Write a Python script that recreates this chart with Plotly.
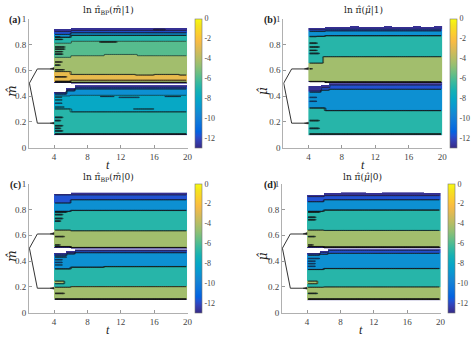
import numpy as np
import plotly.graph_objects as go

# ---------------- data ----------------
T_TICKS = [4, 8, 12, 16, 20]
Y_TICKS = [0, 0.2, 0.4, 0.6, 0.8, 1]
Y_TICK_TEXT = ["0", "0.2", "0.4", "0.6", "0.8", "1"]
CB_TICKS = [0, -2, -4, -6, -8, -10, -12]
CB_TEXT = ["0", "-2", "-4", "-6", "-8", "-10", "-12"]
Z_MIN, Z_MAX = -13, 0

# log-probability level of each coloured band
DK, BL, LB, CY, TL, GR, YG, OR = -12.8, -11.8, -9.2, -8.0, -6.8, -5.85, -4.4, -2.7
FINGER_DROP = -1.6   # thin finger / dash = band level lowered by this amount

# branching tree drawn for t < 4
TREE_T = [1.05, 2.0, 3.5, 4.0]
TREE_UP = [0.50, 0.61, 0.61, 0.613]
TREE_LO = [0.50, 0.19, 0.19, 0.19]
FAN_UP = [0.604, 0.622]
FAN_LO = [0.183, 0.198]

# band boundaries: each boundary = [(t_from, y), ...] (step in t); bands listed bottom->top
# fingers / dashes: (y_centre, t_start, t_end)
A_UP_EDGES = [
    [(4, 0.503), (6, 0.500)],
    [(4, 0.509), (6, 0.506)],
    [(4, 0.516), (6, 0.522)],
    [(4, 0.590), (6, 0.568)],
    [(4, 0.700), (6, 0.712), (10, 0.722), (14, 0.712)],
    [(4, 0.810), (6, 0.826)],
    [(4, 0.855), (6, 0.870)],
    [(4, 0.877), (6, 0.890)],
    [(4, 0.900), (6, 0.907)],
    [(4, 0.917), (6, 0.928)],
]
A_UP_BANDS = [DK, YG, OR, YG, GR, TL, LB, BL, DK]
A_UP_ISL = [
    (0.859, 4, 4.8), (0.839, 4, 5.0), (0.780, 4, 5.2), (0.763, 4, 5.2),
    (0.744, 4, 5.0), (0.725, 4, 5.0), (0.663, 4, 5.0), (0.640, 4, 4.8),
    (0.603, 4, 5.2), (0.548, 4, 5.5),
    (0.818, 9.4, 11.4), (0.565, 13.8, 16.1), (0.565, 18.9, 20), (0.915, 16, 17.3),
]
A_LO_EDGES = [
    [(4, 0.100)],
    [(4, 0.106)],
    [(4, 0.300), (6, 0.278)],
    [(4, 0.400), (6, 0.404)],
    [(4, 0.415), (5.5, 0.440), (6.5, 0.455)],
    [(4, 0.426), (5.5, 0.450), (6.5, 0.468)],
    [(4, 0.434), (5.5, 0.460), (6.5, 0.485)],
]
A_LO_BANDS = [DK, TL, CY, LB, BL, DK]
A_LO_ISL = [
    (0.391, 4, 5), (0.370, 4, 5), (0.345, 4, 5), (0.315, 4, 5.2),
    (0.235, 4, 5), (0.210, 4, 4.8), (0.170, 4, 5), (0.150, 4, 4.8), (0.130, 4, 5),
    (0.397, 9.4, 11.2), (0.390, 11.8, 14.2), (0.396, 17.3, 19.3), (0.300, 13.4, 16.1),
]

B_UP_EDGES = [
    [(4, 0.506), (6, 0.500)],
    [(4, 0.512), (6, 0.507)],
    [(4, 0.655), (5.75, 0.705)],
    [(4, 0.862), (6, 0.868)],
    [(4, 0.900), (6, 0.905)],
    [(4, 0.912), (6, 0.917)],
    [(4, 0.928), (6, 0.937), (9, 0.942), (10, 0.936), (13, 0.942), (14, 0.936),
     (16.5, 0.942), (17.5, 0.936), (19, 0.941)],
]
B_UP_BANDS = [DK, YG, TL, LB, BL, DK]
B_UP_ISL = [(0.862, 4, 5), (0.810, 4, 5), (0.780, 4, 5.2), (0.754, 4, 5), (0.730, 4, 5.2), (0.611, 4, 4.4)]
B_LO_EDGES = [
    [(4, 0.100)],
    [(4, 0.106)],
    [(4, 0.308), (6, 0.288)],
    [(4, 0.430), (5.5, 0.445), (6.5, 0.453)],
    [(4, 0.440), (5.5, 0.465), (6.5, 0.485)],
    [(4, 0.474), (5.5, 0.485), (6.5, 0.499)],
]
B_LO_BANDS = [DK, TL, LB, BL, DK]
B_LO_ISL = [(0.390, 4, 5), (0.360, 4, 5), (0.210, 4, 5.2), (0.150, 4, 5.2)]

C_UP_EDGES = [
    [(4, 0.505), (6, 0.500)],
    [(4, 0.512), (6, 0.506)],
    [(4, 0.640), (6, 0.634)],
    [(4, 0.785), (6, 0.792)],
    [(4, 0.850), (6, 0.875)],
    [(4, 0.912)],
    [(4, 0.922), (6, 0.930)],
]
C_UP_BANDS = [DK, YG, TL, LB, BL, DK]
C_UP_ISL = [(0.780, 4, 5.5), (0.760, 4, 5), (0.730, 4, 5), (0.710, 4, 4.8), (0.590, 4, 5.2), (0.525, 4, 4.8)]
C_LO_EDGES = [
    [(4, 0.100)],
    [(4, 0.106)],
    [(4, 0.198), (6, 0.203)],
    [(4, 0.340), (6, 0.352), (10, 0.358)],
    [(4, 0.440), (5.5, 0.455), (6.5, 0.466)],
    [(4, 0.452), (5.5, 0.466), (6.5, 0.480)],
    [(4, 0.462), (5.5, 0.475), (6.5, 0.489)],
]
C_LO_BANDS = [DK, YG, TL, LB, BL, DK]
C_LO_ISL = [(0.150, 4, 5.3), (0.430, 4, 5.5), (0.410, 4, 5), (0.390, 4, 5), (0.370, 4, 5)]
C_LO_BLOBS = [(0.235, 4, 5.3, YG)]

D_UP_EDGES = [
    [(4, 0.505), (6, 0.500)],
    [(4, 0.512), (6, 0.508)],
    [(4, 0.640), (6, 0.637)],
    [(4, 0.785), (6, 0.795)],
    [(4, 0.860), (6, 0.875)],
    [(4, 0.900), (6, 0.908)],
    [(4, 0.915), (6, 0.928), (8, 0.932), (11, 0.928), (13, 0.932), (18, 0.929)],
]
D_UP_BANDS = [DK, YG, TL, LB, BL, DK]
D_UP_ISL = [(0.780, 4, 5.5), (0.740, 4, 5), (0.720, 4, 5), (0.590, 4, 5), (0.525, 4, 4.8)]
D_LO_EDGES = [
    [(4, 0.100)],
    [(4, 0.106)],
    [(4, 0.198), (6, 0.200)],
    [(4, 0.335), (6, 0.343)],
    [(4, 0.445), (5.5, 0.452), (6.5, 0.460)],
    [(4, 0.455), (5.5, 0.468), (6.5, 0.483)],
    [(4, 0.462), (5.5, 0.476), (6.5, 0.492)],
]
D_LO_BANDS = [DK, YG, TL, LB, BL, DK]
D_LO_ISL = [(0.150, 4, 5.2), (0.420, 4, 5.5), (0.400, 4, 5), (0.380, 4, 5), (0.360, 4, 5)]
D_LO_BLOBS = [(0.235, 4, 5.3, YG)]

TITLES = ["ln π̂<sub>BP</sub>(<i>m̂</i>|1)", "ln π̂(<i>μ̂</i>|1)",
          "ln π̂<sub>BP</sub>(<i>m̂</i>|0)", "ln π̂(<i>μ̂</i>|0)"]
YLABELS = ["<i>m̂</i>", "<i>μ̂</i>", "<i>m̂</i>", "<i>μ̂</i>"]
PANEL_TAGS = ["(a)", "(b)", "(c)", "(d)"]

# ---------------- rendering helpers ----------------
PARULA_RGB = [
    (0, (0.2081, 0.1663, 0.5292)), (2, (0.2123, 0.2138, 0.6270)), (4, (0.1959, 0.2645, 0.7279)),
    (6, (0.1253, 0.3242, 0.8303)), (8, (0.0117, 0.3875, 0.8820)), (12, (0.0498, 0.4586, 0.8641)),
    (16, (0.0793, 0.5200, 0.8312)), (20, (0.0343, 0.5966, 0.8199)), (24, (0.0228, 0.6535, 0.7768)),
    (28, (0.0843, 0.6928, 0.7062)), (32, (0.2178, 0.7250, 0.6193)), (36, (0.3953, 0.7459, 0.5244)),
    (40, (0.5709, 0.7485, 0.4494)), (44, (0.7184, 0.7411, 0.3905)), (48, (0.8507, 0.7299, 0.3360)),
    (52, (0.9739, 0.7314, 0.2666)), (56, (0.9880, 0.8066, 0.1794)), (60, (0.9589, 0.8949, 0.1132)),
    (63, (0.9763, 0.9831, 0.0538)),
]
PARULA = [[i / 63, "rgb(%d,%d,%d)" % tuple(round(255 * c) for c in rgb)] for i, rgb in PARULA_RGB]

T_EDGES = np.arange(4, 20.001, 0.25)
T_CENT = (T_EDGES[:-1] + T_EDGES[1:]) / 2
DY = 0.0025
FINGER_HALF = 0.0016
BLOB_HALF = 0.009


def step_at(boundary, t):
    y = boundary[0][1]
    for ts, ys in boundary:
        if t >= ts:
            y = ys
    return y


def build_block(edges, bands, islands, blobs=()):
    lo = min(p[1] for p in edges[0])
    hi = max(p[1] for p in edges[-1])
    ye = np.arange(lo, hi + DY * 0.99, DY)
    yc = (ye[:-1] + ye[1:]) / 2
    z = np.full((len(yc), len(T_CENT)), np.nan)
    for j, t in enumerate(T_CENT):
        bs = [step_at(e, t) for e in edges]
        for k, v in enumerate(bands):
            z[(yc >= bs[k]) & (yc < bs[k + 1]), j] = v
        base = z[:, j].copy()
        for (y0, t0, t1) in islands:
            if t0 <= t <= t1:
                m = (np.abs(yc - y0) <= FINGER_HALF) & ~np.isnan(base)
                z[m, j] = base[m] + FINGER_DROP
        for (y0, t0, t1, v) in blobs:
            if t0 <= t <= t1:
                m = (np.abs(yc - y0) <= BLOB_HALF) & ~np.isnan(base)
                z[m, j] = v
    zl = z.copy()
    for j in range(zl.shape[1]):
        col = zl[:, j]
        idx = np.where(~np.isnan(col))[0]
        col[:idx[0]] = col[idx[0]]
        col[idx[-1] + 1:] = col[idx[-1]]
    return ye, yc, z, zl


PANELS = [
    ((A_UP_EDGES, A_UP_BANDS, A_UP_ISL, ()), (A_LO_EDGES, A_LO_BANDS, A_LO_ISL, ())),
    ((B_UP_EDGES, B_UP_BANDS, B_UP_ISL, ()), (B_LO_EDGES, B_LO_BANDS, B_LO_ISL, ())),
    ((C_UP_EDGES, C_UP_BANDS, C_UP_ISL, ()), (C_LO_EDGES, C_LO_BANDS, C_LO_ISL, C_LO_BLOBS)),
    ((D_UP_EDGES, D_UP_BANDS, D_UP_ISL, ()), (D_LO_EDGES, D_LO_BANDS, D_LO_ISL, D_LO_BLOBS)),
]

W, H = 474, 343
X_DOM = [[29.3, 189.5], [286.3, 447.0], [29.3, 189.5], [285.0, 445.3]]
Y_DOM = [[14, 147], [14, 147], [184, 317], [184, 317]]
CB_X = [197, 455, 197, 453]
TITLE_X = [109.5, 367.5, 109.5, 366]
TITLE_Y = [6, 6, 177.5, 177.5]
TAG_X = [15.5, 272.5, 15.5, 272.5]
YLAB_X = [12, 266, 12, 266]
SERIF = "Liberation Serif, Times New Roman, serif"
MATHF = "DejaVu Serif, serif"

fig = go.Figure()
annotations = []
layout_axes = {}

for p, blocks in enumerate(PANELS):
    sfx = "" if p == 0 else str(p + 1)
    xref, yref = "x" + sfx, "y" + sfx
    for edges, bands, isl, blobs in blocks:
        ye, yc, z, zl = build_block(edges, bands, isl, blobs)
        fig.add_trace(go.Heatmap(x=T_EDGES, y=ye, z=np.round(z, 2), colorscale=PARULA,
                                 zmin=Z_MIN, zmax=Z_MAX, showscale=False, zsmooth=False,
                                 hoverinfo="skip", xaxis=xref, yaxis=yref))
        fig.add_trace(go.Contour(x=T_CENT, y=yc, z=np.round(zl, 2), showscale=False,
                                 contours=dict(start=Z_MIN, end=Z_MAX, size=1, coloring="lines"),
                                 colorscale=[[0, "#151515"], [1, "#151515"]],
                                 line=dict(width=0.6), hoverinfo="skip",
                                 xaxis=xref, yaxis=yref))
    # tree
    for ys, fan in ((TREE_UP, FAN_UP), (TREE_LO, FAN_LO)):
        fig.add_trace(go.Scatter(x=TREE_T, y=ys, mode="lines",
                                 line=dict(color="#333333", width=1),
                                 hoverinfo="skip", showlegend=False, xaxis=xref, yaxis=yref))
        fig.add_trace(go.Scatter(x=[TREE_T[2], TREE_T[3], TREE_T[3], TREE_T[2]],
                                 y=[ys[2], fan[0], fan[1], ys[2]], mode="lines",
                                 fill="toself", fillcolor="#222222",
                                 line=dict(color="#222222", width=0.4),
                                 hoverinfo="skip", showlegend=False, xaxis=xref, yaxis=yref))
    # colourbar carrier
    cy = 1 - (Y_DOM[p][0] + Y_DOM[p][1]) / 2 / H
    fig.add_trace(go.Scatter(
        x=[10], y=[-5], mode="markers", showlegend=False, hoverinfo="skip",
        marker=dict(color=[Z_MIN], colorscale=PARULA, cmin=Z_MIN, cmax=Z_MAX, size=1,
                    showscale=True,
                    colorbar=dict(x=CB_X[p] / W, xanchor="left", y=cy, yanchor="middle",
                                  len=(Y_DOM[p][1] - Y_DOM[p][0]) / H, lenmode="fraction",
                                  thickness=7, thicknessmode="pixels", xpad=0, ypad=0,
                                  outlinewidth=0.6, outlinecolor="#777777",
                                  tickvals=CB_TICKS, ticktext=CB_TEXT, ticks="",
                                  tickfont=dict(family=SERIF, size=8, color="#444444"))),
        xaxis=xref, yaxis=yref))

    layout_axes["xaxis" + sfx] = dict(
        domain=[X_DOM[p][0] / W, X_DOM[p][1] / W], anchor=yref, range=[1, 20],
        tickvals=T_TICKS, ticks="inside", ticklen=3, tickcolor="#999999",
        showline=True, linecolor="#b0b0b0", linewidth=1, showgrid=False, zeroline=False,
        tickfont=dict(family=SERIF, size=9, color="#444444"))
    layout_axes["yaxis" + sfx] = dict(
        domain=[1 - Y_DOM[p][1] / H, 1 - Y_DOM[p][0] / H], anchor=xref, range=[0, 1],
        tickvals=Y_TICKS, ticktext=Y_TICK_TEXT, ticks="inside", ticklen=3, tickcolor="#999999",
        showline=True, linecolor="#b0b0b0", linewidth=1, showgrid=False, zeroline=False,
        tickfont=dict(family=SERIF, size=9, color="#444444"))

    annotations.append(dict(text=TITLES[p], x=TITLE_X[p] / W, y=1 - TITLE_Y[p] / H,
                            xref="paper", yref="paper", showarrow=False,
                            xanchor="center", yanchor="middle",
                            font=dict(family=MATHF, size=9, color="#222222")))
    annotations.append(dict(text="<b>" + PANEL_TAGS[p] + "</b>", x=TAG_X[p] / W,
                            y=1 - (Y_DOM[p][0] + 1.5) / H, xref="paper", yref="paper",
                            showarrow=False, xanchor="center", yanchor="middle",
                            font=dict(family=SERIF, size=10, color="#222222")))
    annotations.append(dict(text=YLABELS[p], x=YLAB_X[p] / W,
                            y=1 - ((Y_DOM[p][0] + Y_DOM[p][1]) / 2 + 8) / H,
                            xref="paper", yref="paper", showarrow=False, textangle=-90,
                            xanchor="center", yanchor="middle",
                            font=dict(family=MATHF, size=12, color="#222222")))
    annotations.append(dict(text="<i>t</i>", x=(X_DOM[p][0] + X_DOM[p][1]) / 2 / W,
                            y=1 - (Y_DOM[p][1] + 17.5) / H,
                            xref="paper", yref="paper", showarrow=False,
                            xanchor="center", yanchor="middle",
                            font=dict(family=SERIF, size=12, color="#222222")))

fig.update_layout(width=W, height=H, margin=dict(l=0, r=0, t=0, b=0),
                  paper_bgcolor="white", plot_bgcolor="white", showlegend=False,
                  annotations=annotations, **layout_axes)
fig.write_html("out.html")
